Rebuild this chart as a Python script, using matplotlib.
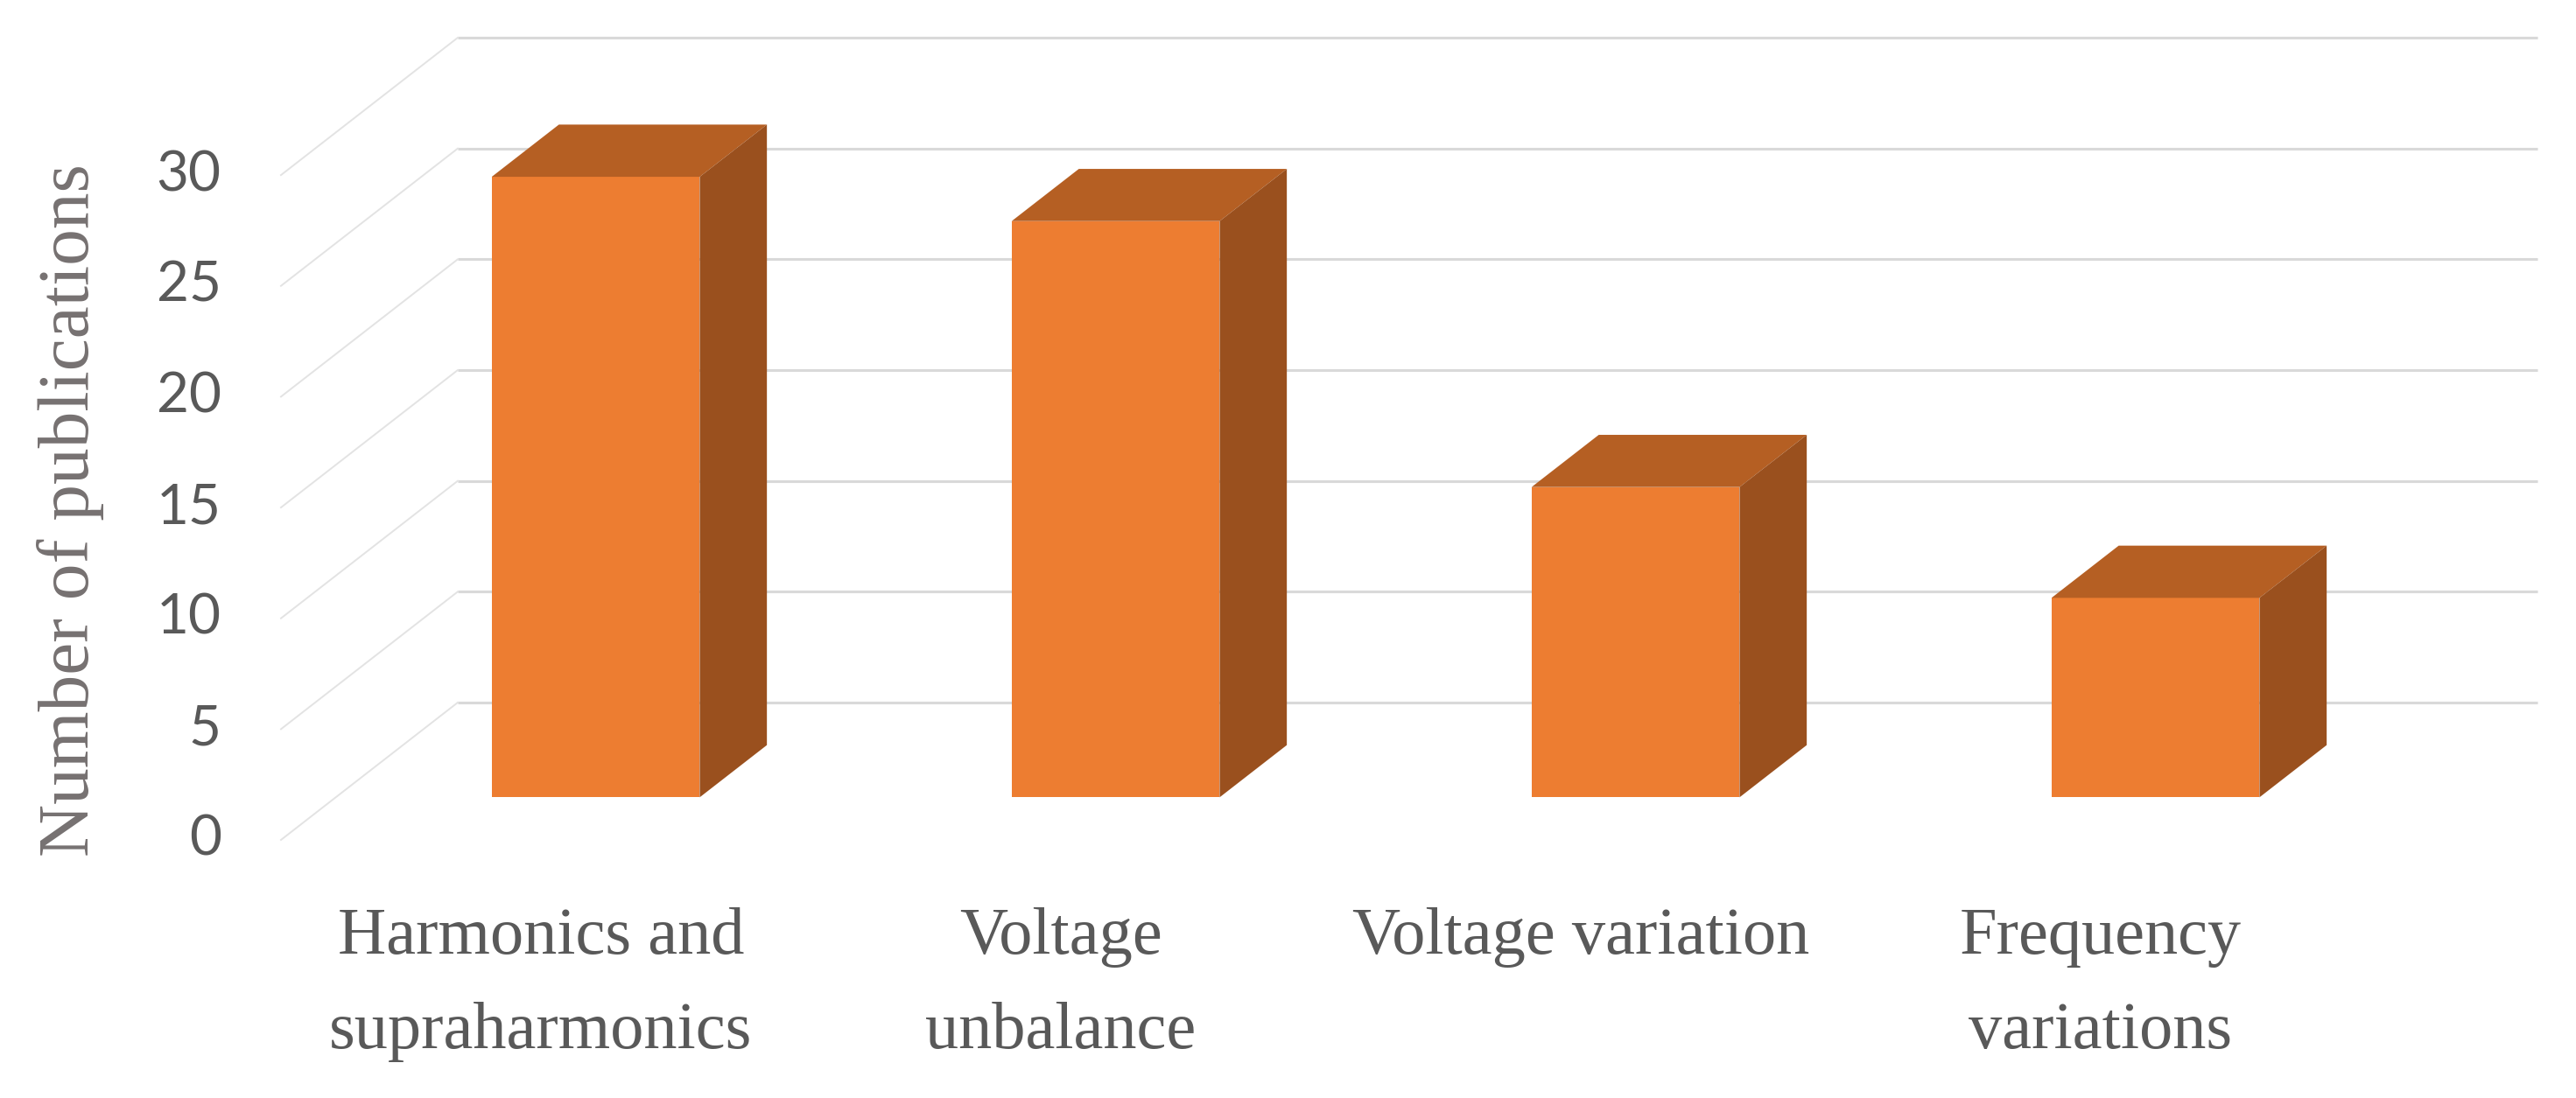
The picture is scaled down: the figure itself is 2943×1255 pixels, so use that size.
import matplotlib
matplotlib.use("Agg")
import matplotlib.pyplot as plt
import numpy as np

# data
categories = ["Harmonics and\nsupraharmonics", "Voltage\nunbalance",
              "Voltage variation", "Frequency\nvariations"]
publications = [28, 26, 14, 9]
y_ticks = [0, 5, 10, 15, 20, 25, 30]

# oblique 3D look: depth vector (in data units) and bar depth slice
depth_dx, depth_dy = 0.34, 6.2
z_front, z_back = 0.31, 0.69
bar_width = 0.4

front_col = "#ED7D31"
top_col = "#B55F23"
side_col = "#9A501E"
grid_col = "#D9D9D9"
text_col = "#595959"

fig = plt.figure(figsize=(29.43, 12.55), dpi=100)
ax = fig.add_axes([0, 0, 1, 1])
ax.set_xlim(-618 / 594, (2943 - 618) / 594)
ax.set_ylim((960 - 1255) / 25.33, 960 / 25.33)
ax.axis("off")

x_left, x_right = -0.5, len(categories) - 0.5

# back wall gridlines + side wall diagonals
for v in y_ticks:
    ax.plot([x_left + depth_dx, x_right + depth_dx], [v + depth_dy, v + depth_dy],
            color=grid_col, lw=2.2, zorder=1, solid_capstyle="butt")
    ax.plot([x_left, x_left + depth_dx], [v, v + depth_dy],
            color="#E3E3E3", lw=1.4, zorder=1)
    ax.text(x_left - 0.115, v, str(v), ha="right", va="center",
            fontsize=46, color=text_col, family="Lato")

# bars: front face through ax.bar, top and side faces as polygons
xs = np.arange(len(categories))
fx = xs + z_front * depth_dx
fy = z_front * depth_dy
ddx = (z_back - z_front) * depth_dx
ddy = (z_back - z_front) * depth_dy
ax.bar(fx, publications, width=bar_width, bottom=fy, color=front_col, zorder=3)
for x, v in zip(fx, publications):
    l, r = x - bar_width / 2, x + bar_width / 2
    top = v + fy
    ax.fill([l, r, r + ddx, l + ddx], [top, top, top + ddy, top + ddy],
            color=top_col, zorder=3, lw=0)
    ax.fill([r, r + ddx, r + ddx, r], [fy, fy + ddy, top + ddy, top],
            color=side_col, zorder=3, lw=0)

# category labels, one text per line
base1 = (960 - 1090) / 25.33
base2 = (960 - 1198) / 25.33
for x, lab in zip(xs, categories):
    lines = lab.split("\n")
    for line, yb in zip(lines, [base1, base2]):
        ax.text(x, yb, line, ha="center", va="baseline", fontsize=55,
                color=text_col, family="Liberation Serif")

ax.text(-618 / 594 + 80 / 594, (960 - 583) / 25.33, "Number of publications",
        rotation=90, ha="center", va="center", fontsize=60,
        color="#767171", family="Liberation Serif")

fig.savefig("out.png", dpi=100)
